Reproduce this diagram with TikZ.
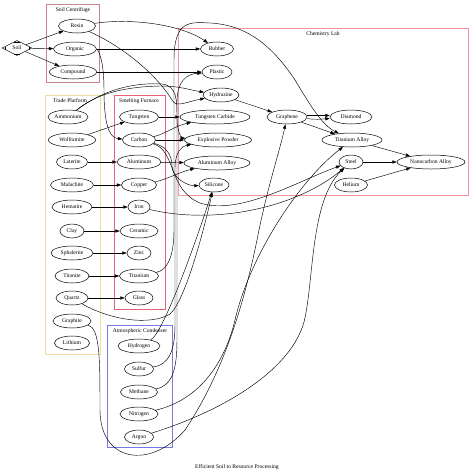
\documentclass[tikz,border=0pt]{standalone}
\usepackage{fontspec}
\setmainfont{Liberation Serif}
\usetikzlibrary{shapes.geometric,arrows.meta}
\definecolor{cSC}{RGB}{200,130,140}
\definecolor{cSF}{RGB}{230,100,120}
\definecolor{cCL}{RGB}{240,150,160}
\definecolor{cTP}{RGB}{240,220,160}
\definecolor{cAC}{RGB}{120,120,230}
\begin{document}
\begin{tikzpicture}[x=1pt,y=-1pt,
  every node/.style={font=\fontsize{5.6}{6.5}\selectfont},
  nd/.style={draw, ellipse, inner sep=0.5pt, minimum height=14pt, line width=0.5pt},
  edge/.style={draw, line width=0.45pt, -{Triangle[length=4.5pt,width=3.2pt]}},
  clus/.style={draw, line width=0.7pt}]
\useasboundingbox (0,0) rectangle (474,475);
% clusters
\draw[clus, cSC] (46,4) rectangle (99,82);
\node (lsc) at (73,10) {Soil Centrifuge};
\draw[clus, cCL] (178,28) rectangle (468,195);
\node (lcl) at (323,34) {Chemistry Lab};
\draw[clus, cTP] (45,95) rectangle (100,354);
\node (ltp) at (70,101) {Trade Platform};
\draw[clus, cSF] (114,95) rectangle (165,309);
\node (lsf) at (139,101) {Smelting Furnace};
\draw[clus, cAC] (107,325) rectangle (172,447);
\node (lac) at (140,331) {Atmospheric Condenser};
% soil
\node[draw, diamond, aspect=2, minimum width=30pt, minimum height=15pt, inner sep=0pt, line width=0.5pt] (soil) at (17,48) {Soil};
\draw[line width=0.45pt] (5,46.5) -- (5,49.5) (29,46.5) -- (29,49.5) (14,42) -- (20,42) (14,54) -- (20,54);
% soil centrifuge
\node[nd, minimum width=37pt] (resin) at (77,26) {Resin};
\node[nd, minimum width=43pt] (organic) at (75,49) {Organic};
\node[nd, minimum width=47pt] (compound) at (73,72) {Compound};
% chemistry lab
\node[nd, minimum width=33pt] (rubber) at (217,49) {Rubber};
\node[nd, minimum width=30pt] (plastic) at (217,72) {Plastic};
\node[nd, minimum width=36pt] (hydrazine) at (221,95) {Hydrazine};
\node[nd, minimum width=70pt] (tcarb) at (215,117) {Tungsten Carbide};
\node[nd, minimum width=67pt] (expl) at (218,140) {Explosive Powder};
\node[nd, minimum width=66pt] (alalloy) at (217,163) {Aluminum Alloy};
\node[nd, minimum width=30pt] (silicone) at (214,185) {Silicone};
\node[nd, minimum width=40pt] (graphene) at (287,117) {Graphene};
\node[nd, minimum width=42pt] (diamond) at (351,117) {Diamond};
\node[nd, minimum width=60pt] (tialloy) at (352,140) {Titanium Alloy};
\node[nd, minimum width=24pt] (steel) at (351,162) {Steel};
\node[nd, minimum width=33pt] (helium) at (351,185) {Helium};
\node[nd, minimum width=68pt] (nano) at (431,162) {Nanocarbon Alloy};
% trade platform
\node[nd, minimum width=40pt] (ammonium) at (68,117) {Ammonium};
\node[nd, minimum width=47pt] (wolframite) at (72,140) {Wolframite};
\node[nd, minimum width=31pt] (laterite) at (72,162) {Laterite};
\node[nd, minimum width=43pt] (malachite) at (72,185) {Malachite};
\node[nd, minimum width=40pt] (hematite) at (72,207) {Hematite};
\node[nd, minimum width=24pt] (clay) at (72,231) {Clay};
\node[nd, minimum width=42pt] (sphalerite) at (72,253) {Sphalerite};
\node[nd, minimum width=34pt] (titanite) at (72,276) {Titanite};
\node[nd, minimum width=32pt] (quartz) at (72,298) {Quartz};
\node[nd, minimum width=38pt] (graphite) at (72,321) {Graphite};
\node[nd, minimum width=35pt] (lithium) at (72,343) {Lithium};
% smelting furnace
\node[nd, minimum width=39pt] (tungsten) at (139,117) {Tungsten};
\node[nd, minimum width=33pt] (carbon) at (139,140) {Carbon};
\node[nd, minimum width=44pt] (aluminum) at (139,162) {Aluminum};
\node[nd, minimum width=35pt] (copper) at (139,185) {Copper};
\node[nd, minimum width=22pt] (iron) at (139,207) {Iron};
\node[nd, minimum width=38pt] (ceramic) at (139,231) {Ceramic};
\node[nd, minimum width=24pt] (zinc) at (139,253) {Zinc};
\node[nd, minimum width=39pt] (titanium) at (139,276) {Titanium};
\node[nd, minimum width=28pt] (glass) at (139,298) {Glass};
% atmospheric condenser
\node[nd, minimum width=42pt] (hydrogen) at (139,346) {Hydrogen};
\node[nd, minimum width=29pt] (sulfur) at (139,369) {Sulfur};
\node[nd, minimum width=37pt] (methane) at (139,392) {Methane};
\node[nd, minimum width=38pt] (nitrogen) at (139,414) {Nitrogen};
\node[nd, minimum width=29pt] (argon) at (139,437) {Argon};
% title
\node (title) at (237,467) {Efficient Soil to Resource Processing};
% edges
\draw[edge] (soil) -- (resin);
\draw[edge] (soil) -- (organic);
\draw[edge] (soil) -- (compound);
\draw[edge] (resin) .. controls (130,18) and (180,24) .. (rubber);
\draw[edge] (resin) .. controls (130,50) and (160,80) .. (172,100) .. controls (176,108) and (186,102) .. (hydrazine);
\draw[edge] (organic) -- (rubber);
\draw[edge] (organic.east) .. controls (100,52) and (104,65) .. (104,90) .. controls (104,120) and (108,138) .. (carbon);
\draw[edge] (compound) -- (plastic);
\draw[edge] (ammonium) .. controls (95,95) and (120,87) .. (160,86) .. controls (180,86) and (190,90) .. (hydrazine);
\draw[edge] (ammonium) .. controls (100,92) and (130,82) .. (162,84) .. controls (177,86) and (177,100) .. (177,118) .. controls (177,132) and (182,138) .. (expl);
\draw[edge] (wolframite) -- (tungsten);
\draw[edge] (laterite) -- (aluminum);
\draw[edge] (malachite) -- (copper);
\draw[edge] (hematite) -- (iron);
\draw[edge] (clay) -- (ceramic);
\draw[edge] (sphalerite) -- (zinc);
\draw[edge] (titanite) -- (titanium);
\draw[edge] (quartz) -- (glass);
\draw[edge] (quartz) .. controls (110,320) and (150,326) .. (170,314) .. controls (186,300) and (205,225) .. (silicone);
\draw[edge] (graphite) .. controls (100,328) and (100,360) .. (100,410) .. controls (100,462) and (150,470) .. (185,430) .. controls (225,370) and (245,300) .. (258,235) .. controls (268,185) and (280,150) .. (graphene);
\draw[edge] (tungsten) -- (tcarb);
\draw[edge] (carbon) .. controls (165,134) and (175,126) .. (tcarb);
\draw[edge] (carbon) -- (expl);
\draw[edge] (carbon) .. controls (166,146) and (172,155) .. (172,166) .. controls (172,178) and (188,186) .. (silicone);
\draw[edge] (carbon) .. controls (176,150) and (168,190) .. (200,203) .. controls (240,216) and (300,180) .. (steel);
\draw[edge] (aluminum) -- (alalloy);
\draw[edge] (copper) .. controls (165,180) and (180,172) .. (alalloy);
\draw[edge] (iron) .. controls (220,226) and (300,205) .. (steel);
\draw[edge] (titanium) .. controls (168,270) and (174,255) .. (174,230) -- (174,60) .. controls (174,20) and (190,22) .. (210,23) .. controls (250,25) and (275,50) .. (295,80) .. controls (310,105) and (322,125) .. (tialloy);
\draw[edge] (hydrogen) .. controls (164,333) and (200,230) .. (silicone);
\draw[edge] (sulfur) .. controls (168,365) and (175,352) .. (175,325) -- (175,168) .. controls (175,152) and (182,146) .. (expl);
\draw[edge] (methane) .. controls (172,386) and (177,370) .. (177,340) -- (177,102) .. controls (177,82) and (186,74) .. (plastic);
\draw[edge] (nitrogen) .. controls (200,400) and (225,362) .. (235,320) .. controls (250,255) and (300,180) .. (tialloy);
\draw[edge] (argon) .. controls (220,412) and (290,372) .. (304,322) .. controls (314,282) and (310,200) .. (steel);
\draw[edge] (hydrazine) -- (graphene);
\draw[edge] ([yshift=1.5pt]graphene.east) -- ([yshift=1.5pt]diamond.west);
\draw[edge] ([yshift=-1.5pt]graphene.east) .. controls (315,120) and (322,119) .. ([yshift=-1.5pt]diamond.west);
\draw[edge] (graphene) -- (tialloy);
\draw[edge] (tialloy) -- (nano);
\draw[edge] (steel) -- (nano);
\draw[edge] (helium) -- (nano);
\end{tikzpicture}
\end{document}
